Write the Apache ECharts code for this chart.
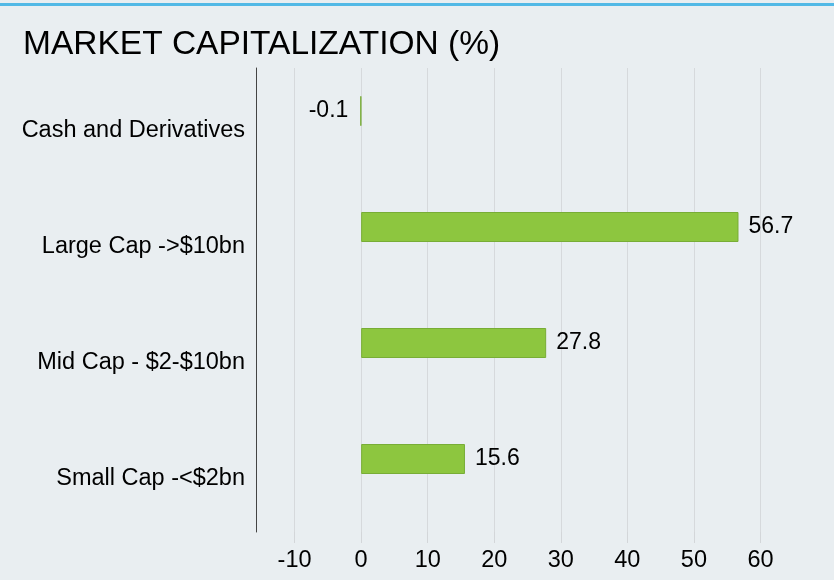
<!DOCTYPE html>
<html>
<head>
<meta charset="utf-8">
<script src="https://cdn.jsdelivr.net/npm/echarts@6/dist/echarts.min.js"></script>
<style>
html,body{margin:0;padding:0;background:#e9eef1;}
#chart{width:834px;height:580px;}
</style>
</head>
<body>
<div id="chart"></div>
<script>
var categories = ['Cash and Derivatives', 'Large Cap ->$10bn', 'Mid Cap - $2-$10bn', 'Small Cap -<$2bn'];
var values = [-0.1, 56.7, 27.8, 15.6];
var tickValues = [-10, 0, 10, 20, 30, 40, 50, 60];
var titleText = 'MARKET CAPITALIZATION (%)';

var FONT = '"Liberation Sans", Arial, sans-serif';
var chart = echarts.init(document.getElementById('chart'));
chart.setOption({
  backgroundColor: '#e9eef1',
  animation: false,
  title: {
    text: titleText,
    left: 18,
    top: 23,
    textStyle: { fontFamily: FONT, fontSize: 33.5, fontWeight: 'normal', color: '#000' }
  },
  graphic: [{
    type: 'rect', left: 0, top: 3, shape: { width: 834, height: 3 },
    style: { fill: '#52b9e6' }, silent: true
  }],
  grid: { left: 256, right: 7, top: 68, bottom: 48, containLabel: false },
  xAxis: {
    type: 'value',
    min: -15.8,
    max: 70,
    axisLine: { show: false },
    axisTick: { show: true, length: 11, customValues: tickValues, lineStyle: { color: '#d3d6d9' } },
    splitLine: { show: true, lineStyle: { color: '#d6d9dc', width: 1 } },
    axisLabel: {
      customValues: tickValues,
      margin: 17,
      fontFamily: FONT, fontSize: 23.5, color: '#000'
    }
  },
  yAxis: {
    type: 'category',
    data: categories,
    inverse: true,
    axisLine: { show: true, onZero: false, lineStyle: { color: '#444', width: 1 } },
    axisTick: { show: false },
    axisLabel: {
      margin: 11,
      formatter: function (v) { return '{c|' + v + '}'; },
      rich: {
        c: { fontFamily: FONT, fontSize: 23.5, color: '#000', padding: [10, 0, 0, 0] }
      }
    }
  },
  series: [{
    type: 'bar',
    data: values.map(function (v) {
      return v < 0 ? { value: v, label: { position: 'left', distance: 12 } } : v;
    }),
    barWidth: 30,
    barGap: '0%',
    itemStyle: { color: '#8dc63f', borderColor: '#78ad36', borderWidth: 1 },
    label: {
      show: true,
      fontFamily: FONT, fontSize: 23, color: '#000',
      distance: 10,
      position: 'right',
      formatter: function (p) { return p.value.toFixed(1); }
    }
  }, {
    type: 'bar',
    data: categories.map(function () { return null; }),
    barWidth: 30,
    barGap: '0%'
  }]
});
</script>
</body>
</html>
